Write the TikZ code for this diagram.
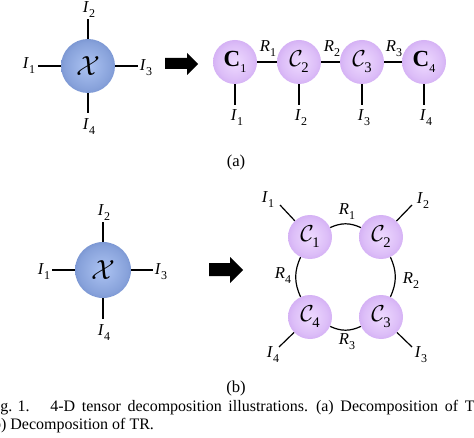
\documentclass[tikz,border=0pt]{standalone}
\usepackage{fontspec}
\setmainfont{Liberation Serif}
\definecolor{bin}{RGB}{172,195,242}
\definecolor{bout}{RGB}{48,82,162}
\definecolor{pin}{RGB}{238,218,255}
\definecolor{pout}{RGB}{178,122,230}
\pgfdeclareradialshading{bluesph}{\pgfpoint{0bp}{0bp}}{color(0bp)=(bin); color(22bp)=(bin!70!bout); color(50bp)=(bout); color(100bp)=(bout)}
\pgfdeclareradialshading{purpsph}{\pgfpoint{0bp}{0bp}}{color(0bp)=(pin); color(20bp)=(pin!70!pout); color(50bp)=(pout); color(100bp)=(pout)}
\newcommand\Lsub[2]{#1\raisebox{-0.3em}{\fontsize{9}{10}\selectfont #2}}
\newcommand\Il[1]{\Lsub{\textit{I}}{#1}}
\newcommand\Rl[1]{\Lsub{\textit{R}}{#1}}
\newcommand\Cc[1]{$\mathcal{C}$\kern-1pt\raisebox{-0.25em}{\fontsize{11}{12}\selectfont #1}}
\newcommand\Cb[1]{\textbf{C}\raisebox{-0.25em}{\fontsize{9}{10}\selectfont #1}}
\begin{document}
\begin{tikzpicture}[x=0.75pt,y=-0.75pt,
  lbl/.style={font=\fontsize{12.5}{14}\selectfont, inner sep=0pt},
  bsph/.style={circle, shade, shading=bluesph, inner sep=0pt, font=\fontsize{20}{22}\selectfont},
  psph/.style={circle, shade, shading=purpsph, inner sep=0pt, minimum size=33pt, font=\fontsize{17.28}{19}\selectfont},
  edge/.style={line width=0.9pt},
  bigarrow/.style={fill=black},
  captxt/.style={anchor=base west, inner sep=0pt, font=\fontsize{12}{14}\selectfont}]
\clip (0,0) rectangle (474,438);

% ---------- (a) ----------
\node[bsph, minimum size=40.5pt] (Xa) at (88,66) {$\mathcal{X}$};
\coordinate (Xa-n) at (88,19);
\coordinate (Xa-w) at (38,66);
\coordinate (Xa-e) at (138,66);
\coordinate (Xa-s) at (88,113);
\draw[edge] (Xa) -- (Xa-n);
\draw[edge] (Xa) -- (Xa-w);
\draw[edge] (Xa) -- (Xa-e);
\draw[edge] (Xa) -- (Xa-s);
\node[lbl] (aI2) at (89,10) {\Il{2}};
\node[lbl] (aI1) at (29,66) {\Il{1}};
\node[lbl] (aI3) at (146,68) {\Il{3}};
\node[lbl] (aI4) at (89,127) {\Il{4}};

\fill[bigarrow] (165,58) -- (187,58) -- (187,53) -- (198,64) -- (187,75) -- (187,69) -- (165,69) -- cycle;

\node[psph] (a1) at (235,62) {\Cb{1}};
\node[psph] (a2) at (299,62) {\Cc{2}};
\node[psph] (a3) at (362,62) {\Cc{3}};
\node[psph] (a4) at (424,62) {\Cb{4}};
\draw[edge] (a1) -- (a2);
\draw[edge] (a2) -- (a3);
\draw[edge] (a3) -- (a4);
\node[lbl] (aR1) at (268,49) {\Rl{1}};
\node[lbl] (aR2) at (332,49) {\Rl{2}};
\node[lbl] (aR3) at (394,49) {\Rl{3}};
\foreach \i/\x in {1/235,2/299,3/362,4/424}{
  \coordinate (a\i-s) at (\x,105);
  \draw[edge] (a\i) -- (a\i-s);
}
\node[lbl] (aJ1) at (237,118) {\Il{1}};
\node[lbl] (aJ2) at (301,118) {\Il{2}};
\node[lbl] (aJ3) at (364,118) {\Il{3}};
\node[lbl] (aJ4) at (426,118) {\Il{4}};

\node[lbl] (capa) at (236,162) {(a)};

% ---------- (b) ----------
\node[bsph, minimum size=42pt] (Xb) at (103,270) {$\mathcal{X}$};
\coordinate (Xb-n) at (103,222);
\coordinate (Xb-w) at (52,270);
\coordinate (Xb-e) at (153,270);
\coordinate (Xb-s) at (103,319);
\draw[edge] (Xb) -- (Xb-n);
\draw[edge] (Xb) -- (Xb-w);
\draw[edge] (Xb) -- (Xb-e);
\draw[edge] (Xb) -- (Xb-s);
\node[lbl] (bI2) at (104,213) {\Il{2}};
\node[lbl] (bI1) at (44,272) {\Il{1}};
\node[lbl] (bI3) at (161,272) {\Il{3}};
\node[lbl] (bI4) at (104,333) {\Il{4}};

\fill[bigarrow] (209,263) -- (230,263) -- (230,257) -- (243,270) -- (230,283) -- (230,276) -- (209,276) -- cycle;

\node[psph] (b1) at (310,237) {\Cc{1}};
\node[psph] (b2) at (381,237) {\Cc{2}};
\node[psph] (b3) at (381,317) {\Cc{3}};
\node[psph] (b4) at (310,317) {\Cc{4}};
\draw[edge] (b1) to[bend left=25] (b2);
\draw[edge] (b2) to[bend left=25] (b3);
\draw[edge] (b3) to[bend left=25] (b4);
\draw[edge] (b4) to[bend left=25] (b1);
\coordinate (b1-o) at (280,205);
\coordinate (b2-o) at (412,205);
\coordinate (b3-o) at (412,347);
\coordinate (b4-o) at (279,347);
\foreach \i in {1,2,3,4}{\draw[edge] (b\i) -- (b\i-o);}
\node[lbl] (bJ1) at (268,200) {\Il{1}};
\node[lbl] (bJ2) at (423,201) {\Il{2}};
\node[lbl] (bJ3) at (421,355) {\Il{3}};
\node[lbl] (bJ4) at (273,355) {\Il{4}};
\node[lbl] (bR1) at (347,212) {\Rl{1}};
\node[lbl] (bR2) at (411,281) {\Rl{2}};
\node[lbl] (bR3) at (347,342) {\Rl{3}};
\node[lbl] (bR4) at (283,276) {\Rl{4}};

\node[lbl] (capb) at (236,388) {(b)};

% ---------- caption ----------
\node[captxt] (figno) at (-13.3,411) {Fig. 1.};
\node[captxt] (cap1) at (50,411) {\spaceskip=5pt\relax 4-D tensor decomposition illustrations. (a) Decomposition of TT.};
\node[captxt] (cap2) at (-12.5,429) {(b) Decomposition of TR.};
\end{tikzpicture}
\end{document}
